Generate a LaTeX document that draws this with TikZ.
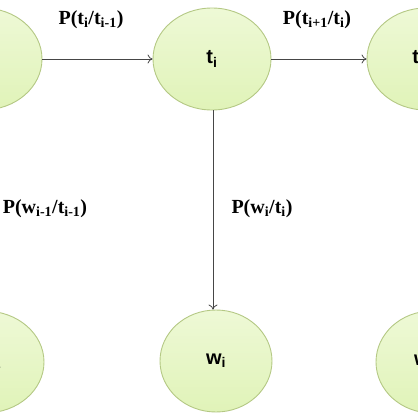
\documentclass[tikz,border=0pt]{standalone}
\usepackage{fontspec}
\setmainfont{Liberation Serif}
\setsansfont{Liberation Sans}
\usetikzlibrary{shapes.geometric,arrows.meta}
\definecolor{ovalfill}{RGB}{224,243,184}
\definecolor{ovaltop}{RGB}{238,249,214}
\definecolor{ovalline}{RGB}{180,200,132}
\definecolor{flowline}{RGB}{70,70,70}
\begin{document}
\begin{tikzpicture}[
  x=1pt, y=-1pt,
  state/.style={ellipse, draw=ovalline, line width=0.9pt, top color=ovaltop,
    bottom color=ovalfill, minimum width=118pt, minimum height=102pt,
    inner sep=0pt, font=\sffamily\bfseries\fontsize{20}{22}\selectfont},
  prob/.style={font=\bfseries\fontsize{20}{22}\selectfont, inner sep=0pt},
  flow/.style={draw=flowline, line width=0.8pt, -{To[length=5pt,width=9pt]}}
]
  \path[use as bounding box] (0,0) rectangle (418,418);
  \clip (0,0) rectangle (418,418);

  \node[state] (t0) at (-17, 59) {t\textsubscript{i-1}};
  \node[state] (t1) at (212, 59) {t\textsubscript{i}};
  \node[state] (t2) at (426, 59) {t\textsubscript{i+1}};

  \node[state] (w0) at (-15, 362) {w\textsubscript{i-1}};
  \node[state, minimum width=112pt] (w1) at (216, 361) {w\textsubscript{i}};
  \node[state, minimum width=112pt] (w2) at (432, 362) {w\textsubscript{i+1}};

  \node[prob] (p1) at (91, 20) {P(t\textsubscript{i}/t\textsubscript{i-1})};
  \node[prob] (p2) at (317, 20) {P(t\textsubscript{i+1}/t\textsubscript{i})};
  \node[prob] (p3) at (45, 209) {P(w\textsubscript{i-1}/t\textsubscript{i-1})};
  \node[prob] (p4) at (262, 209) {P(w\textsubscript{i}/t\textsubscript{i})};

  \draw[flow] (t0.east) -- (t1.west);
  \draw[flow] (t1.east) -- (t2.west);
  \draw[flow] ([xshift=1pt]t1.south) -- ([xshift=1pt]t1.south |- w1.north);
\end{tikzpicture}
\end{document}
